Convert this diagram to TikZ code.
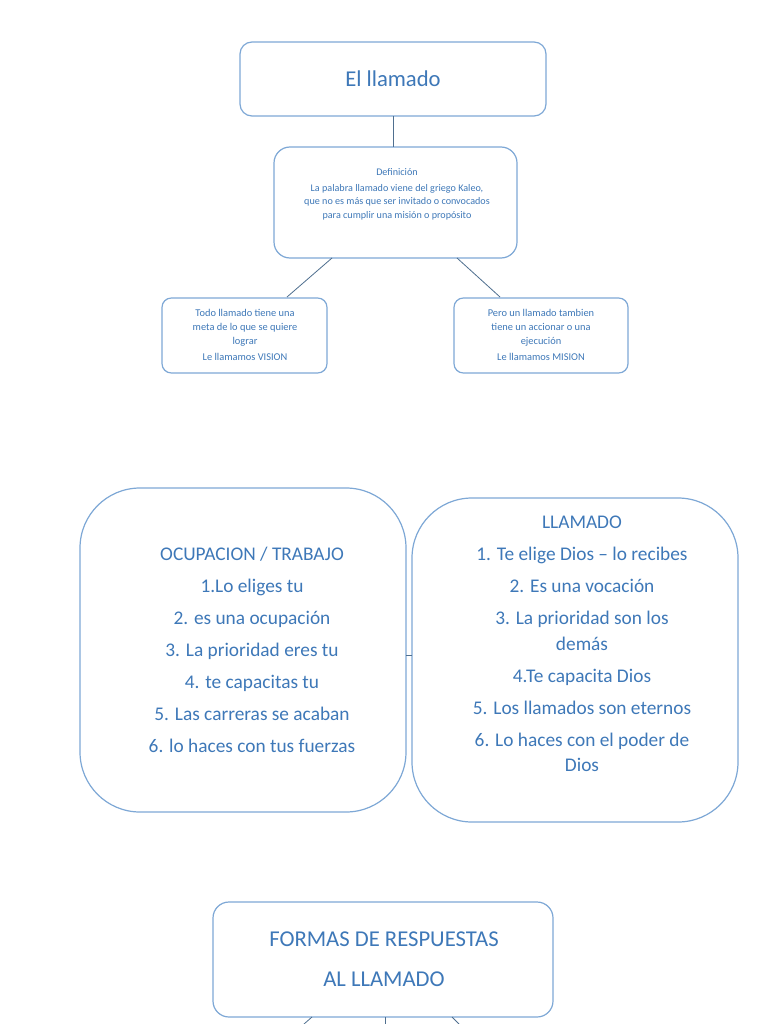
\documentclass[tikz,border=0pt]{standalone}
\usepackage{fontspec}
\setmainfont{Carlito}
\definecolor{txt}{HTML}{3E78B8}
\definecolor{brd}{HTML}{7EA8D6}
\definecolor{ln}{HTML}{4F6F8F}
\begin{document}
\begin{tikzpicture}[x=0.75pt,y=-0.75pt,
  box/.style={draw=brd,line width=0.9pt,rounded corners=#1,text=txt,align=center,inner sep=0pt},
  conn/.style={draw=ln,line width=0.6pt}]
\useasboundingbox (0,0) rectangle (768,1024);
\fill[white] (0,0) rectangle (768,1024);
\draw[box=9pt] (240,42) rectangle (546,116);
\node[text=txt,font=\fontsize{17}{20}\selectfont] (t) at (393,79) {El llamado};
\coordinate (tb) at (393,116);
\draw[box=12pt] (274,147) rectangle (517,258);
\coordinate (dt) at (393,147);
\node[text=txt,align=center,font=\fontsize{7.6}{10}\selectfont] (d) at (397,194) {Definición\\[2pt]La palabra llamado viene del griego Kaleo,\\que no es más que ser invitado o convocados\\para cumplir una misión o propósito};
\draw[box=7pt] (162,298) rectangle (327,373);
\node[text=txt,align=center,font=\fontsize{7.8}{10.5}\selectfont] (l) at (245,335) {Todo llamado tiene una\\meta de lo que se quiere\\lograr\\[2pt]Le llamamos VISION};
\draw[box=7pt] (454,298) rectangle (628,373);
\node[text=txt,align=center,font=\fontsize{7.8}{10.5}\selectfont] (r) at (541,335) {Pero un llamado tambien\\tiene un accionar o una\\ejecución\\[2pt]Le llamamos MISION};
\draw[conn] (tb) -- (dt);
\draw[conn] (332,258) coordinate (d1) -- (287,297) coordinate (l1);
\draw[conn] (457,258) coordinate (d2) -- (500,297) coordinate (r1);
\draw[box=45pt] (80,488) rectangle (406,812);
\node[text=txt,align=center,font=\fontsize{14.5}{24}\selectfont] (o) at (252,650) {OCUPACION / TRABAJO\\1.Lo eliges tu\\2. es una ocupación\\3. La prioridad eres tu\\4. te capacitas tu\\5. Las carreras se acaban\\6. lo haces con tus fuerzas};
\draw[box=45pt] (412,498) rectangle (738,822);
\node[text=txt,align=center,font=\fontsize{14.5}{19}\selectfont] (m) at (582,644) {LLAMADO\\[5pt]1. Te elige Dios -- lo recibes\\[5pt]2. Es una vocación\\[5pt]3. La prioridad son los\\demás\\[5pt]4.Te capacita Dios\\[5pt]5. Los llamados son eternos\\[5pt]6. Lo haces con el poder de\\Dios};
\draw[conn] (406,655) coordinate (oa) -- (412,655) coordinate (ma);
\draw[box=12pt] (213,902) rectangle (553,1017);
\node[text=txt,align=center,font=\fontsize{17}{30}\selectfont] (f) at (384,959) {FORMAS DE RESPUESTAS\\AL LLAMADO};
\draw[conn] (312,1017) coordinate (f1) -- (304,1024) coordinate (e1);
\draw[conn] (385,1017) coordinate (f2) -- (385,1024) coordinate (e2);
\draw[conn] (452,1017) coordinate (f3) -- (459,1024) coordinate (e3);
\end{tikzpicture}
\end{document}
